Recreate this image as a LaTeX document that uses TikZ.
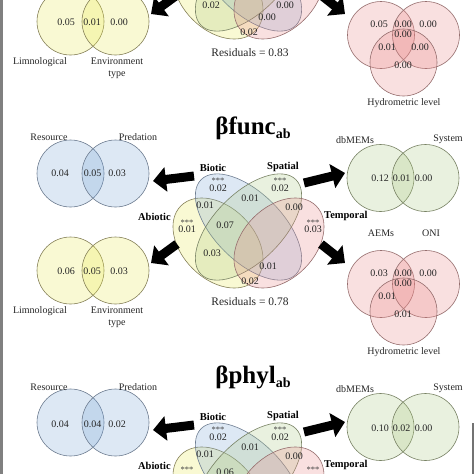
\documentclass[tikz,border=0pt]{standalone}
\usepackage{fontspec}
\setmainfont{Liberation Serif}
\usepackage{tikz}
\usetikzlibrary{arrows.meta,positioning}

\definecolor{bioC}{RGB}{120,165,215}
\definecolor{spaC}{RGB}{170,200,130}
\definecolor{abioC}{RGB}{235,235,80}
\definecolor{temC}{RGB}{235,135,135}
\definecolor{bioE}{RGB}{110,125,145}
\definecolor{spaE}{RGB}{120,130,100}
\definecolor{abioE}{RGB}{135,130,90}
\definecolor{temE}{RGB}{150,110,110}
\newcommand{\signif}[1]{{\fontsize{8.5}{7.5}\selectfont\color{black!75}***}\\#1}

\begin{document}
\begin{tikzpicture}[x=1pt,y=-1pt,
  num/.style={font=\fontsize{10}{12}\selectfont, text=black!85, inner sep=0pt},
  numsig/.style={font=\fontsize{10}{7.5}\selectfont, text=black!85, inner sep=0pt, align=center},
  lab/.style={font=\fontsize{10}{12}\selectfont, text=black!85, inner sep=0pt, align=center},
  setlab/.style={font=\fontsize{10.5}{12}\selectfont\bfseries, inner sep=0pt},
  sig/.style={font=\fontsize{8.5}{9}\selectfont, text=black!75, inner sep=0pt},
  resid/.style={font=\fontsize{11.5}{13}\selectfont, text=black!85, inner sep=0pt},
  ttl/.style={font=\fontsize{25}{26}\selectfont\bfseries, inner sep=0pt},
  venn/.style={line width=0.6pt, fill opacity=0.25},
  bigarrow/.style={line width=9pt, -{Triangle[length=13pt,width=24pt]}}]
\useasboundingbox (0,0) rectangle (474,474);
\clip (0,0) rectangle (474,474);
\fill[white] (0,0) rectangle (474,474);

% the same panel three times, one below the other
\foreach \dy/\r in {-249/a,0/b,249/c} {
\begin{scope}[shift={(0,\dy)}]
% biotic: resource / predation
\filldraw[venn,fill=bioC,draw=bioE] (70.5,173.5) circle[radius=33.5pt];
\filldraw[venn,fill=bioC,draw=bioE] (115.5,173.5) circle[radius=33.5pt];
% spatial: dbMEMs / system
\filldraw[venn,fill=spaC,draw=spaE] (380.5,178) circle[radius=33.5pt];
\filldraw[venn,fill=spaC,draw=spaE] (425.5,178) circle[radius=33.5pt];
% abiotic: limnological / environment type
\filldraw[venn,fill=abioC,draw=abioE] (70.5,270.5) circle[radius=33.5pt];
\filldraw[venn,fill=abioC,draw=abioE] (115.5,270.5) circle[radius=33.5pt];
% temporal: AEMs / ONI / hydrometric level
\filldraw[venn,fill=temC,draw=temE] (381,284) circle[radius=33.5pt];
\filldraw[venn,fill=temC,draw=temE] (426,284) circle[radius=33.5pt];
\filldraw[venn,fill=temC,draw=temE] (403.5,311.5) circle[radius=33.5pt];
% four sets
\filldraw[venn,fill=abioC,draw=abioE,shift={(218,243)},rotate=135] (0,0) ellipse[x radius=52.5pt,y radius=36pt];
\filldraw[venn,fill=bioC,draw=bioE,shift={(248.5,227)},rotate=135] (0,0) ellipse[x radius=67pt,y radius=34pt];
\filldraw[venn,fill=spaC,draw=spaE,shift={(248.5,227)},rotate=45] (0,0) ellipse[x radius=67pt,y radius=34pt];
\filldraw[venn,fill=temC,draw=temE,shift={(279,243)},rotate=45] (0,0) ellipse[x radius=52.5pt,y radius=36pt];
% arrows
\coordinate (bioT\r) at (194,176); \coordinate (bioH\r) at (153,181);
\coordinate (spaT\r) at (304,183); \coordinate (spaH\r) at (345,173);
\coordinate (abiT\r) at (177,244); \coordinate (abiH\r) at (151,263);
\coordinate (temT\r) at (321,244); \coordinate (temH\r) at (345,263);
\draw[bigarrow] (bioT\r) -- (bioH\r);
\draw[bigarrow] (spaT\r) -- (spaH\r);
\draw[bigarrow] (abiT\r) -- (abiH\r);
\draw[bigarrow] (temT\r) -- (temH\r);
\end{scope}
}

% upper panel (only its lower part shows)
\begin{scope}[shift={(0,-249)}]
\node[num] (aL1) at (66,271) {0.05};
\node[num] (aL2) at (92,271) {0.01};
\node[num] (aL3) at (119,271) {0.00};
\node[lab] (aLimn) at (40,311) {Limnological};
\node[lab] (aEnv) at (117,317) {Environment\\type};
\node[num] (aQ1) at (211,254) {0.02};
\node[num] (aQ2) at (285,254) {0.00};
\node[num] (aQ3) at (267,266) {0.00};
\node[num] (aQ4) at (249,281) {0.02};
\node[resid] (aRes) at (250,302) {Residuals = 0.83};
\node[num] (aT1) at (379,273) {0.05};
\node[num] (aT2) at (403,273) {0.00};
\node[num] (aT3) at (428,273) {0.00};
\node[num] (aT4) at (403,283) {0.00};
\node[num] (aT5) at (387,296) {0.01};
\node[num] (aT6) at (420,296) {0.00};
\node[num] (aT7) at (403,314) {0.00};
\node[lab] (aHyd) at (404,352) {Hydrometric level};
\end{scope}

% middle panel
\node[ttl] (bTitle) at (253,128) {βfunc\raisebox{-4pt}{\fontsize{14}{14}\selectfont ab}};
\node[lab] (bRes) at (49,137) {Resource};
\node[lab] (bPre) at (138,137) {Predation};
\node[num] (bB1) at (60,173) {0.04};
\node[num] (bB2) at (92.5,173) {0.05};
\node[num] (bB3) at (117,173) {0.03};
\node[lab] (bMEM) at (355,140) {dbMEMs};
\node[lab] (bSys) at (448,139) {System};
\node[num] (bS1) at (380,178) {0.12};
\node[num] (bS2) at (401.5,178) {0.01};
\node[num] (bS3) at (423.5,178) {0.00};
\node[setlab] (bBio) at (213,168) {Biotic};
\node[setlab] (bSpa) at (283,167) {Spatial};
\node[setlab,anchor=east] (bAbi) at (171,217) {Abiotic};
\node[setlab,anchor=west] (bTem) at (324,216) {Temporal};
\node[numsig] (bQ1) at (218,185) {\signif{0.02}};
\node[numsig] (bQ2) at (280,185) {\signif{0.02}};
\node[num] (bQ3) at (250,198) {0.01};
\node[num] (bQ4) at (205,205) {0.01};
\node[num] (bQ5) at (294,207) {0.00};
\node[numsig] (bQ6) at (187,226.5) {\signif{0.01}};
\node[numsig] (bQ7) at (313,226.5) {\signif{0.03}};
\node[num] (bQ8) at (225,225) {0.07};
\node[num] (bQ9) at (212,253) {0.03};
\node[num] (bQ10) at (268,266) {0.01};
\node[num] (bQ11) at (250,281) {0.02};
\node[resid] (bResid) at (250,302) {Residuals = 0.78};
\node[num] (bL1) at (66,271) {0.06};
\node[num] (bL2) at (92,271) {0.05};
\node[num] (bL3) at (119,271) {0.03};
\node[lab] (bLimn) at (40,311) {Limnological};
\node[lab] (bEnv) at (117,317) {Environment\\type};
\node[lab] (bAEM) at (381,233) {AEMs};
\node[lab] (bONI) at (431,233) {ONI};
\node[num] (bT1) at (379,273) {0.03};
\node[num] (bT2) at (403,273) {0.00};
\node[num] (bT3) at (428,273) {0.00};
\node[num] (bT4) at (403,283) {0.00};
\node[num] (bT5) at (387,296) {0.01};
\node[num] (bT7) at (403,314) {0.01};
\node[lab] (bHyd) at (404,352) {Hydrometric level};

% lower panel (only its upper part shows)
\begin{scope}[shift={(0,249)}]
\node[ttl] (cTitle) at (253,128) {βphyl\raisebox{-4pt}{\fontsize{14}{14}\selectfont ab}};
\node[lab] (cRes) at (49,138) {Resource};
\node[lab] (cPre) at (138,138) {Predation};
\node[num] (cB1) at (60,175) {0.04};
\node[num] (cB2) at (92.5,175) {0.04};
\node[num] (cB3) at (117,175) {0.02};
\node[lab] (cMEM) at (355,140) {dbMEMs};
\node[lab] (cSys) at (448,139) {System};
\node[num] (cS1) at (380,179) {0.10};
\node[num] (cS2) at (401.5,179) {0.02};
\node[num] (cS3) at (423.5,179) {0.00};
\node[setlab] (cBio) at (213,168) {Biotic};
\node[setlab] (cSpa) at (283,167) {Spatial};
\node[setlab,anchor=east] (cAbi) at (171,217) {Abiotic};
\node[setlab,anchor=west] (cTem) at (324,216) {Temporal};
\node[numsig] (cQ1) at (218,185) {\signif{0.02}};
\node[numsig] (cQ2) at (280,185) {\signif{0.02}};
\node[num] (cQ3) at (250,198) {0.01};
\node[num] (cQ4) at (205,205) {0.01};
\node[num] (cQ5) at (294,207) {0.00};
\node[sig] (cQs6) at (187,221) {***};
\node[sig] (cQs7) at (313,221) {***};
\node[num] (cQ8) at (225,223) {0.06};
\end{scope}

% page edges
\fill[black!50] (0,0) rectangle (2.7,474);
\fill[black!55] (472.3,423) rectangle (474,474);
\end{tikzpicture}
\end{document}
